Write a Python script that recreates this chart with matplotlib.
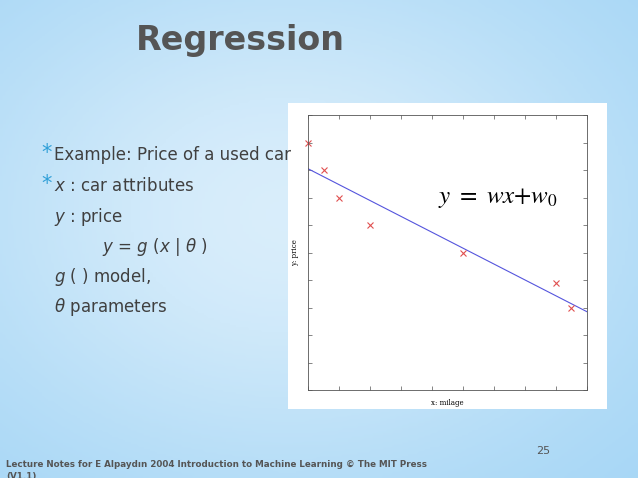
import matplotlib.pyplot as plt
import numpy as np

# data (tick units)
milage = [0, 0.5, 1, 2, 5, 8, 8.5]
price = [9, 8, 7, 6, 5, 3.9, 3]
line_x = [0, 9]
line_y = [8.05, 2.85]

bullets = ["Example: Price of a used car", "x : car attributes"]

fig = plt.figure(figsize=(6.38, 4.78), dpi=100)

# light blue slide background
bg = fig.add_axes([0, 0, 1, 1])
gx, gy = np.meshgrid(np.linspace(0, 1, 200), np.linspace(0, 1, 200))
grad = 0.6 * np.exp(-((gx - 0.45) ** 2 + (gy - 0.45) ** 2) * 3)
bg.imshow(grad, cmap=plt.matplotlib.colors.LinearSegmentedColormap.from_list(
    "b", ["#9fd3f5", "#ffffff"]), extent=[0, 1, 0, 1], aspect='auto', vmin=0, vmax=1)
bg.axis('off')

fig.text(0.377, 0.915, "Regression", fontsize=24, fontweight='bold', color='#555555',
         ha='center', va='center')

fig.text(0.065, 0.68, "*", color='#2f9fd8', fontsize=15, va='center')
fig.text(0.085, 0.675, bullets[0], color='#404040', fontsize=12, va='center')
fig.text(0.065, 0.615, "*", color='#2f9fd8', fontsize=15, va='center')
fig.text(0.085, 0.61, "$\\it{x}$ : car attributes", color='#404040', fontsize=12, va='center')
fig.text(0.085, 0.547, "$\\it{y}$ : price", color='#404040', fontsize=12, va='center')
fig.text(0.16, 0.483, "$\\it{y}$ = $\\it{g}$ ($\\it{x}$ | $\\it{θ}$ )", color='#404040', fontsize=12, va='center')
fig.text(0.085, 0.42, "$\\it{g}$ ( ) model,", color='#404040', fontsize=12, va='center')
fig.text(0.085, 0.357, "$\\it{θ}$ parameters", color='#404040', fontsize=12, va='center')

fig.text(0.84, 0.05, "25", color='#555555', fontsize=8)
fig.text(0.01, 0.022, "Lecture Notes for E Alpaydın 2004 Introduction to Machine Learning © The MIT Press",
         color='#555555', fontsize=6.3, fontweight='bold')
fig.text(0.01, -0.003, "(V1.1)", color='#555555', fontsize=6.3, fontweight='bold')

# white panel behind the plot
panel = fig.add_axes([0.452, 0.145, 0.5, 0.64])
panel.set_facecolor('white')
panel.set_xticks([]); panel.set_yticks([])
for s in panel.spines.values():
    s.set_visible(False)

ax = fig.add_axes([0.483, 0.184, 0.437, 0.575])
ax.plot(line_x, line_y, color='#5555dd', lw=0.8)
ax.plot(milage, price, 'x', color='#e05050', ms=5, mew=0.8, clip_on=False)
ax.set_xlim(0, 9)
ax.set_ylim(0, 10)
ax.set_xticks(range(10))
ax.set_yticks(range(11))
ax.set_xticklabels([]); ax.set_yticklabels([])
ax.tick_params(direction='in', length=3, color='#555555', top=True, right=True, width=0.5)
for s in ax.spines.values():
    s.set_color('#555555'); s.set_linewidth(0.6)
ax.set_xlabel("x: milage", fontsize=5, family='serif', labelpad=3)
ax.set_ylabel("y: price", fontsize=5, family='serif', labelpad=3)
ax.text(4.2, 6.8, "$y\\ =\\ wx{+}w_0$", fontsize=18, math_fontfamily='stix')

fig.savefig("out.png", dpi=100)
